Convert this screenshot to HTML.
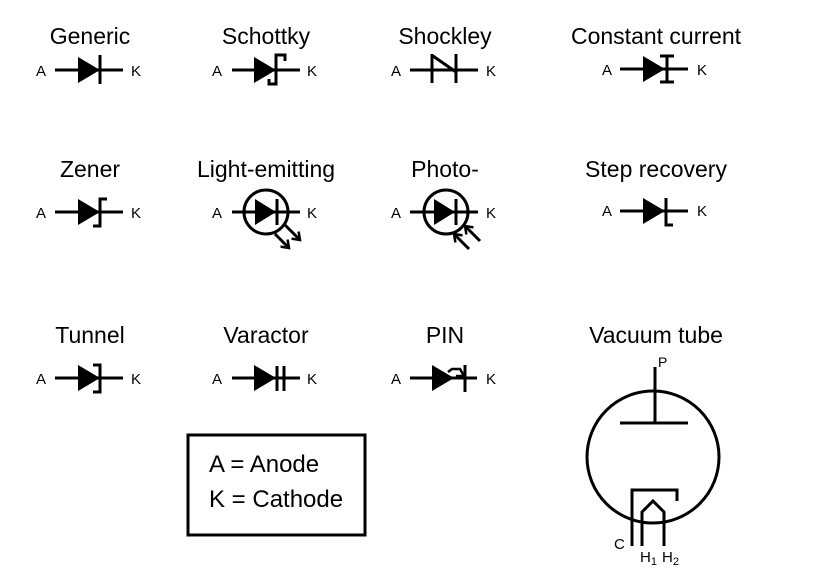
<!DOCTYPE html>
<html><head><style>html,body{margin:0;padding:0;background:#fff}svg{display:block}</style></head>
<body>
<svg width="815" height="581" viewBox="0 0 815 581" xmlns="http://www.w3.org/2000/svg" font-family="'Liberation Sans', sans-serif">
<defs>
<marker id="ah" markerWidth="12" markerHeight="12" refX="8" refY="6" orient="auto" markerUnits="userSpaceOnUse"><path d="M1,1 L8,6 L1,11" fill="none" stroke="#000" stroke-width="2.5"/></marker>
</defs>
<g font-size="23" text-anchor="middle" fill="#000">
<text x="90" y="44">Generic</text><text x="266" y="44">Schottky</text><text x="445" y="44">Shockley</text><text x="656" y="44">Constant current</text>
<text x="90" y="177">Zener</text><text x="266" y="177">Light-emitting</text><text x="445" y="177">Photo-</text><text x="656" y="177">Step recovery</text>
<text x="90" y="343">Tunnel</text><text x="266" y="343">Varactor</text><text x="445" y="343">PIN</text><text x="656" y="343">Vacuum tube</text>
</g>
<g font-size="15" fill="#000">
<text x="36" y="76">A</text><text x="131" y="76">K</text>
<text x="212" y="76">A</text><text x="307" y="76">K</text>
<text x="391" y="76">A</text><text x="486" y="76">K</text>
<text x="602" y="75">A</text><text x="697" y="75">K</text>
<text x="36" y="218">A</text><text x="131" y="218">K</text>
<text x="212" y="218">A</text><text x="307" y="218">K</text>
<text x="391" y="218">A</text><text x="486" y="218">K</text>
<text x="602" y="216">A</text><text x="697" y="216">K</text>
<text x="36" y="384">A</text><text x="131" y="384">K</text>
<text x="212" y="384">A</text><text x="307" y="384">K</text>
<text x="391" y="384">A</text><text x="486" y="384">K</text>
</g>
<g stroke="#000" stroke-width="3" fill="none">
<line x1="55" y1="70" x2="123" y2="70"/><path d="M78,57 L100,70 L78,83Z" fill="#000" stroke="none"/><line x1="100" y1="55" x2="100" y2="84"/>
<line x1="232" y1="70" x2="300" y2="70"/><path d="M254,57 L276,70 L254,83Z" fill="#000" stroke="none"/><path d="M285,61 L285,55 L276,55 L276,84 L269,84 L269,79"/>
<line x1="410" y1="70" x2="478" y2="70"/><line x1="432" y1="54" x2="432" y2="83"/><line x1="456" y1="54" x2="456" y2="83"/><line x1="433" y1="56" x2="456" y2="72"/>
<line x1="620" y1="69" x2="688" y2="69"/><path d="M643,56 L665,69 L643,82Z" fill="#000" stroke="none"/><line x1="667" y1="56" x2="667" y2="82"/><line x1="660" y1="56" x2="674" y2="56"/><line x1="660" y1="82" x2="674" y2="82"/>
<line x1="55" y1="212" x2="123" y2="212"/><path d="M78,199 L100,212 L78,225Z" fill="#000" stroke="none"/><path d="M107,199 L100,199 L100,226 L93,226"/>
<circle cx="266" cy="212" r="22"/><line x1="232" y1="212" x2="300" y2="212"/><path d="M255,199 L276,212 L255,225Z" fill="#000" stroke="none"/><line x1="277" y1="199" x2="277" y2="225"/>
<line x1="285" y1="225" x2="300" y2="240" marker-end="url(#ah)"/><line x1="275" y1="234" x2="289" y2="248" marker-end="url(#ah)"/>
<circle cx="446" cy="212" r="22"/><line x1="410" y1="212" x2="478" y2="212"/><path d="M434,199 L455,212 L434,225Z" fill="#000" stroke="none"/><line x1="456" y1="199" x2="456" y2="225"/>
<line x1="480" y1="241" x2="465" y2="226" marker-end="url(#ah)"/><line x1="469" y1="249" x2="454" y2="234" marker-end="url(#ah)"/>
<line x1="620" y1="211" x2="688" y2="211"/><path d="M643,198 L665,211 L643,224Z" fill="#000" stroke="none"/><path d="M666,198 L666,225 L673,225"/>
<line x1="55" y1="378" x2="123" y2="378"/><path d="M78,365 L100,378 L78,391Z" fill="#000" stroke="none"/><path d="M93,365 L100,365 L100,392 L93,392"/>
<line x1="232" y1="378" x2="300" y2="378"/><path d="M254,365 L276,378 L254,391Z" fill="#000" stroke="none"/><line x1="277" y1="366" x2="277" y2="391"/><line x1="284" y1="366" x2="284" y2="391"/>
<line x1="410" y1="378" x2="477" y2="378"/><path d="M432,365 L454,378 L432,391Z" fill="#000" stroke="none"/><path d="M448,372 L452,369 L460,369 L464,376 L456,376" stroke-width="2.5"/><line x1="465" y1="365" x2="465" y2="392"/>
<circle cx="653" cy="457" r="66"/>
<line x1="655" y1="367" x2="655" y2="423"/><line x1="620" y1="423" x2="688" y2="423"/>
<path d="M632,546 L632,490 L677,490 L677,501"/>
<path d="M642,546 L642,512 L653,501 L664,512 L664,546"/>
<rect x="188" y="435" width="177" height="100" stroke-width="3"/>
</g>
<g fill="#000">
<text x="658" y="367" font-size="14">P</text>
<text x="614" y="549" font-size="15">C</text>
<text x="640" y="562" font-size="15">H<tspan font-size="11" dy="3">1</tspan></text>
<text x="662" y="562" font-size="15">H<tspan font-size="11" dy="3">2</tspan></text>
<text x="209" y="472" font-size="24">A = Anode</text>
<text x="209" y="507" font-size="24">K = Cathode</text>
</g>
</svg>
</body></html>
